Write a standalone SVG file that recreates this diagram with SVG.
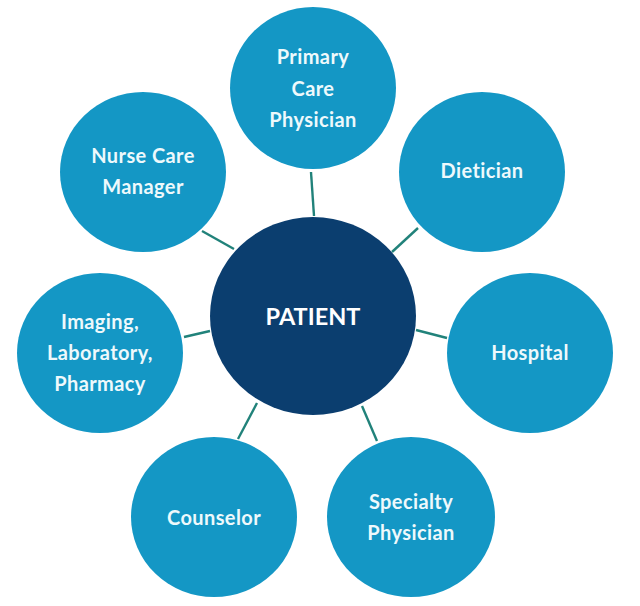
<svg xmlns="http://www.w3.org/2000/svg" width="640" height="606" viewBox="0 0 640 606">
<style>
.sat{fill:#1497c5;}
.core{fill:#0b3e6f;}
.lbl{font-family:Lato,"Open Sans","Liberation Sans",sans-serif;font-weight:bold;font-size:20px;letter-spacing:0.4px;fill:#eef9fc;text-anchor:middle;}
.main{font-family:Lato,"Open Sans","Liberation Sans",sans-serif;font-weight:bold;font-size:23.5px;fill:#ffffff;text-anchor:middle;}
.conn line{stroke:#21827a;stroke-width:2.4;stroke-linecap:butt;}
</style>
<rect width="640" height="606" fill="#ffffff"/>
<g id="connectors" class="conn">
<line x1="311" y1="172" x2="314" y2="216"/>
<line x1="418" y1="228" x2="392" y2="252"/>
<line x1="416" y1="330" x2="447" y2="338"/>
<line x1="362" y1="406" x2="377" y2="441"/>
<line x1="257" y1="403" x2="238" y2="439"/>
<line x1="184" y1="337" x2="210" y2="331"/>
<line x1="202" y1="231" x2="234" y2="249"/>
</g>
<g id="patient">
<ellipse class="core" cx="313" cy="316" rx="103" ry="99"/>
<text class="main" x="313" y="325">PATIENT</text>
</g>
<g id="primary-care-physician">
<ellipse class="sat" cx="313" cy="88" rx="83" ry="81"/>
<text class="lbl" x="313" y="64">Primary</text>
<text class="lbl" x="313" y="96">Care</text>
<text class="lbl" x="313" y="127">Physician</text>
</g>
<g id="dietician">
<ellipse class="sat" cx="482" cy="172" rx="83" ry="80"/>
<text class="lbl" x="482" y="178">Dietician</text>
</g>
<g id="hospital">
<ellipse class="sat" cx="530" cy="353" rx="83" ry="80"/>
<text class="lbl" x="530" y="360">Hospital</text>
</g>
<g id="specialty-physician">
<ellipse class="sat" cx="411" cy="517" rx="84" ry="80"/>
<text class="lbl" x="411" y="509">Specialty</text>
<text class="lbl" x="411" y="540">Physician</text>
</g>
<g id="counselor">
<ellipse class="sat" cx="214" cy="517" rx="83" ry="80"/>
<text class="lbl" x="214" y="525">Counselor</text>
</g>
<g id="imaging-laboratory-pharmacy">
<ellipse class="sat" cx="100" cy="353" rx="83" ry="80"/>
<text class="lbl" x="100" y="329">Imaging,</text>
<text class="lbl" x="100" y="360">Laboratory,</text>
<text class="lbl" x="100" y="391">Pharmacy</text>
</g>
<g id="nurse-care-manager">
<ellipse class="sat" cx="143" cy="172" rx="83" ry="80"/>
<text class="lbl" x="143" y="163">Nurse Care</text>
<text class="lbl" x="143" y="194">Manager</text>
</g>
</svg>
